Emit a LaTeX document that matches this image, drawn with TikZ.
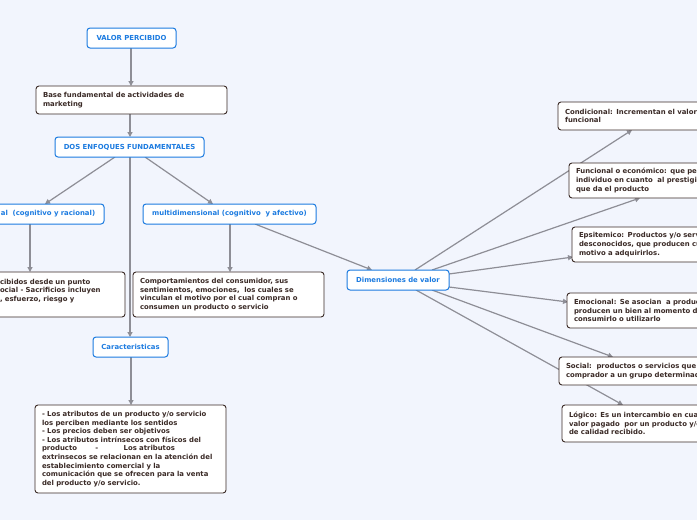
\documentclass[tikz,border=0pt]{standalone}
\usepackage{fontspec}
\setmainfont{DejaVu Sans}
\usetikzlibrary{arrows.meta}
\definecolor{bg}{HTML}{F2F5FD}
\definecolor{bl}{HTML}{1C7BE0}
\definecolor{dk}{HTML}{3A2A26}
\definecolor{ln}{HTML}{8E8E96}
\newcommand{\nohy}{\hyphenpenalty=10000 \exhyphenpenalty=10000 }
\tikzset{x=1pt,y=1pt,
 boxb/.style={draw=bl,line width=1pt,rounded corners=3pt,fill=white,text=bl,font=\bfseries\fontsize{6.9}{8.6}\selectfont,inner sep=0pt},
 boxd/.style={draw=dk,line width=0.9pt,rounded corners=3pt,fill=white,text=dk,font=\bfseries\fontsize{6.9}{8.6}\selectfont,inner sep=0pt,align=left,execute at begin node=\nohy},
 conn/.style={draw=ln,line width=1.2pt,-{Triangle[length=5pt,width=5pt]}}}
\newcommand{\bx}[7]{\node[#6,minimum width={#4-#2},minimum height={#5-#3},text width={#4-#2-14}] (#1) at ({(#2+#4)/2},{-(#3+#5)/2}) {#7};}
\begin{document}
\begin{tikzpicture}
\fill[bg] (0,0) rectangle (697,-520);
\useasboundingbox (0,0) rectangle (697,-520);
\clip (0,0) rectangle (697,-520);
\coordinate (e1) at (131,-48); \coordinate (e2) at (131,-86);
\coordinate (e3) at (130,-114); \coordinate (e4) at (130,-137);
\coordinate (e5) at (115,-157); \coordinate (e6) at (45,-204);
\coordinate (e7) at (145,-157); \coordinate (e8) at (213,-204);
\coordinate (e9) at (130,-157); \coordinate (e10) at (130,-337);
\coordinate (e11) at (30,-224); \coordinate (e12) at (30,-272);
\coordinate (e13) at (230,-224); \coordinate (e14) at (230,-272);
\coordinate (e15) at (255,-224); \coordinate (e16) at (372,-270);
\coordinate (e17) at (131,-357); \coordinate (e18) at (131,-405);
\coordinate (d1) at (415,-270); \coordinate (r1) at (632,-130);
\coordinate (d2) at (432,-270); \coordinate (r2) at (640,-198);
\coordinate (d3) at (449,-274); \coordinate (r3) at (573,-257);
\coordinate (d4) at (449,-287); \coordinate (r4) at (568,-302);
\coordinate (d5) at (432,-290); \coordinate (r5) at (613,-357);
\coordinate (d6) at (416,-290); \coordinate (r6) at (623,-405);
\foreach \a/\b in {e1/e2,e3/e4,e5/e6,e7/e8,e9/e10,e11/e12,e13/e14,e15/e16,e17/e18,d1/r1,d2/r2,d3/r3,d4/r4,d5/r5,d6/r6}
  \draw[conn] (\a) -- (\b);
\bx{vp}{87}{28}{176}{48}{boxb,align=center}{VALOR PERCIBIDO}
\bx{base}{36}{86}{227}{114}{boxd}{Base fundamental de actividades de marketing}
\bx{dos}{55}{137}{204}{157}{boxb,align=center}{DOS ENFOQUES FUNDAMENTALES}
\node[boxb,minimum width=112,minimum height=20,align=left,text width=94] (uni) at (48,-214) {\mbox{al\ \ (cognitivo y racional)}};
\bx{multi}{143}{204}{316}{224}{boxb,align=center}{multidimensional (cognitivo\ \ y afectivo)}
\node[boxd,minimum width=140,minimum height=45,text width=110] (unib) at (55,-294.5) {cibidos desde un punto\\ocial - Sacrificios incluyen\\, esfuerzo, riesgo y\\ \ };
\bx{comp}{133}{272}{324}{317}{boxd}{Comportamientos del consumidor, sus sentimientos, emociones,\ \ los cuales se vinculan el motivo por el cual compran o consumen un producto o servicio}
\bx{car}{93}{337}{168}{357}{boxb,align=center}{Caracteristicas}
\bx{atr}{35}{405}{226}{493}{boxd}{- Los atributos de un producto y/o servicio\\los perciben mediante los sentidos\\- Los precios deben ser objetivos\\- Los atributos intrínsecos con físicos del\\producto\qquad\ \ -\qquad\quad\ \ Los atributos\\extrinsecos se relacionan en la atención del\\establecimiento comercial y la\\comunicación que se ofrecen para la venta\\del producto y/o servicio.}
\bx{dim}{347}{270}{449}{290}{boxb,align=center}{Dimensiones de valor}
\bx{cond}{558}{102}{760}{130}{boxd}{Condicional: Incrementan el valor\\funcional}
\bx{fun}{569}{163}{780}{198}{boxd}{Funcional o económico: que perm\\individuo en cuanto\ \ al prestigio\\que da el producto}
\bx{eps}{572}{227}{780}{262}{boxd}{Epsitemico: Productos y/o servi\\desconocidos, que producen cu\\motivo a adquirirlos.}
\bx{emo}{567}{293}{780}{328}{boxd}{Emocional: Se asocian\ \ a producto\\producen un bien al momento de\\consumirlo o utilizarlo}
\bx{soc}{559}{357}{780}{385}{boxd}{Social:\ \ productos o servicios que \\comprador a un grupo determinado}
\bx{log}{562}{405}{780}{442}{boxd}{Lógico: Es un intercambio en cuant\\valor pagado\ \ por un producto y/o\\de calidad recibido.}
\end{tikzpicture}
\end{document}
